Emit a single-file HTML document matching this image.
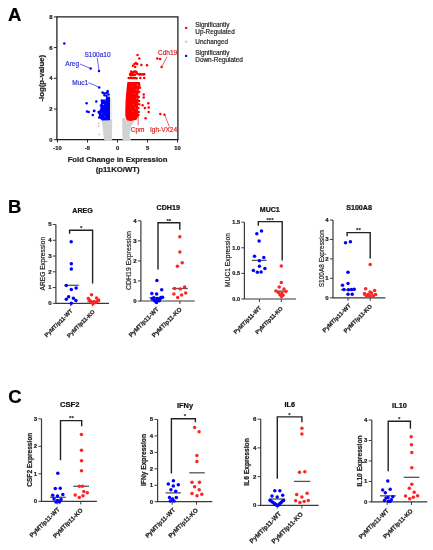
<!DOCTYPE html>
<html><head><meta charset="utf-8"><style>
html,body{margin:0;padding:0;background:#fff;}
svg{display:block;}
svg text{font-family:'Liberation Sans', sans-serif;}
</style></head><body>
<svg width="433" height="550" viewBox="0 0 433 550">
<rect width="433" height="550" fill="#fff"/>
<text x="8.00" y="21.30" font-size="18.5" font-weight="bold" text-anchor="start" fill="#000" stroke="#000" stroke-width="0.22">A</text>
<text x="8.00" y="212.60" font-size="18.5" font-weight="bold" text-anchor="start" fill="#000" stroke="#000" stroke-width="0.22">B</text>
<text x="8.20" y="403.40" font-size="18.5" font-weight="bold" text-anchor="start" fill="#000" stroke="#000" stroke-width="0.22">C</text>
<polygon points="109.60,98.00 112.20,98.00 112.20,120.00 109.60,120.00" fill="#ececec"/>
<polygon points="101.80,119.50 112.20,119.50 112.10,130.00 111.90,141.00 104.10,141.00 103.30,134.00 102.50,126.00" fill="#d2d2d2"/>
<polygon points="122.20,118.00 125.50,118.00 126.00,121.00 134.50,120.50 131.00,127.00 129.50,134.00 130.80,141.00 122.50,141.00 122.20,130.00" fill="#d2d2d2"/>
<circle cx="98.70" cy="123.50" r="0.9" fill="#cfcfcf"/>
<circle cx="98.70" cy="126.20" r="0.9" fill="#cfcfcf"/>
<circle cx="99.20" cy="134.40" r="0.9" fill="#cfcfcf"/>
<polygon points="106.30,96.50 110.00,96.80 110.00,120.30 102.00,120.60 99.20,117.80 98.60,112.50 100.30,108.50 100.90,104.50 101.00,100.20 103.20,99.50 105.60,99.60" fill="#0000ff"/>
<circle cx="103.70" cy="104.60" r="0.5" fill="#ffffff"/>
<circle cx="101.90" cy="113.20" r="0.4" fill="#ffffff"/>
<circle cx="104.60" cy="116.20" r="0.35" fill="#ffffff"/>
<circle cx="105.20" cy="100.80" r="0.35" fill="#ffffff"/>
<circle cx="107.70" cy="90.90" r="1.25" fill="#0000ff"/>
<circle cx="102.50" cy="92.50" r="1.25" fill="#0000ff"/>
<circle cx="103.80" cy="93.20" r="1.25" fill="#0000ff"/>
<circle cx="104.50" cy="95.20" r="1.25" fill="#0000ff"/>
<circle cx="106.10" cy="93.20" r="1.25" fill="#0000ff"/>
<circle cx="107.40" cy="92.50" r="1.25" fill="#0000ff"/>
<circle cx="108.50" cy="94.50" r="1.25" fill="#0000ff"/>
<circle cx="106.50" cy="96.00" r="1.25" fill="#0000ff"/>
<circle cx="101.80" cy="100.40" r="1.25" fill="#0000ff"/>
<circle cx="100.90" cy="105.60" r="1.25" fill="#0000ff"/>
<circle cx="98.60" cy="112.10" r="1.25" fill="#0000ff"/>
<circle cx="99.20" cy="117.40" r="1.25" fill="#0000ff"/>
<circle cx="96.30" cy="101.40" r="1.25" fill="#0000ff"/>
<circle cx="94.30" cy="110.80" r="1.25" fill="#0000ff"/>
<circle cx="86.60" cy="103.30" r="1.25" fill="#0000ff"/>
<circle cx="87.00" cy="111.50" r="1.25" fill="#0000ff"/>
<circle cx="88.70" cy="111.90" r="1.25" fill="#0000ff"/>
<circle cx="94.00" cy="110.90" r="1.25" fill="#0000ff"/>
<circle cx="92.80" cy="115.00" r="1.25" fill="#0000ff"/>
<circle cx="99.30" cy="113.10" r="1.25" fill="#0000ff"/>
<circle cx="64.30" cy="43.40" r="1.25" fill="#0000ff"/>
<circle cx="90.70" cy="68.50" r="1.25" fill="#0000ff"/>
<circle cx="99.00" cy="70.90" r="1.25" fill="#0000ff"/>
<circle cx="99.20" cy="87.60" r="1.25" fill="#0000ff"/>
<polygon points="127.40,81.90 139.80,81.90 140.60,85.40 139.40,88.50 138.60,92.00 138.30,96.00 138.60,100.00 138.20,104.00 137.80,108.00 138.20,112.00 138.40,116.00 136.50,119.80 131.00,120.90 126.80,120.60 125.30,116.00 125.30,110.00 125.60,100.00 126.30,92.00 126.90,86.00" fill="#ff0000"/>
<circle cx="137.30" cy="84.90" r="0.5" fill="#ffffff"/>
<circle cx="136.20" cy="89.80" r="0.45" fill="#ffffff"/>
<circle cx="134.30" cy="93.60" r="0.35" fill="#ffffff"/>
<circle cx="136.40" cy="98.20" r="0.4" fill="#ffffff"/>
<circle cx="133.60" cy="104.40" r="0.3" fill="#ffffff"/>
<circle cx="135.80" cy="108.00" r="0.4" fill="#ffffff"/>
<circle cx="132.80" cy="111.20" r="0.3" fill="#ffffff"/>
<circle cx="131.50" cy="86.20" r="0.3" fill="#ffffff"/>
<circle cx="137.50" cy="54.90" r="1.25" fill="#ff0000"/>
<circle cx="139.30" cy="58.60" r="1.25" fill="#ff0000"/>
<circle cx="135.90" cy="63.10" r="1.25" fill="#ff0000"/>
<circle cx="134.50" cy="64.00" r="1.25" fill="#ff0000"/>
<circle cx="132.90" cy="65.70" r="1.25" fill="#ff0000"/>
<circle cx="137.20" cy="64.00" r="1.25" fill="#ff0000"/>
<circle cx="135.20" cy="67.00" r="1.25" fill="#ff0000"/>
<circle cx="141.40" cy="64.90" r="1.25" fill="#ff0000"/>
<circle cx="147.00" cy="65.30" r="1.25" fill="#ff0000"/>
<circle cx="131.30" cy="71.60" r="1.25" fill="#ff0000"/>
<circle cx="132.60" cy="72.90" r="1.25" fill="#ff0000"/>
<circle cx="135.90" cy="71.90" r="1.25" fill="#ff0000"/>
<circle cx="134.20" cy="74.80" r="1.25" fill="#ff0000"/>
<circle cx="130.60" cy="73.50" r="1.25" fill="#ff0000"/>
<circle cx="139.50" cy="74.20" r="1.25" fill="#ff0000"/>
<circle cx="141.40" cy="74.50" r="1.25" fill="#ff0000"/>
<circle cx="143.70" cy="74.20" r="1.25" fill="#ff0000"/>
<circle cx="130.00" cy="74.50" r="1.25" fill="#ff0000"/>
<circle cx="131.30" cy="73.50" r="1.25" fill="#ff0000"/>
<circle cx="132.60" cy="72.50" r="1.25" fill="#ff0000"/>
<circle cx="133.90" cy="71.80" r="1.25" fill="#ff0000"/>
<circle cx="135.20" cy="71.50" r="1.25" fill="#ff0000"/>
<circle cx="136.50" cy="72.00" r="1.25" fill="#ff0000"/>
<circle cx="131.00" cy="75.30" r="1.25" fill="#ff0000"/>
<circle cx="133.00" cy="75.00" r="1.25" fill="#ff0000"/>
<circle cx="135.00" cy="74.80" r="1.25" fill="#ff0000"/>
<circle cx="137.00" cy="73.50" r="1.25" fill="#ff0000"/>
<circle cx="138.60" cy="74.30" r="1.25" fill="#ff0000"/>
<circle cx="140.00" cy="74.30" r="1.25" fill="#ff0000"/>
<circle cx="142.80" cy="74.30" r="1.25" fill="#ff0000"/>
<circle cx="144.20" cy="74.30" r="1.25" fill="#ff0000"/>
<circle cx="128.70" cy="78.00" r="1.25" fill="#ff0000"/>
<circle cx="130.00" cy="78.00" r="1.25" fill="#ff0000"/>
<circle cx="131.30" cy="78.00" r="1.25" fill="#ff0000"/>
<circle cx="132.60" cy="78.00" r="1.25" fill="#ff0000"/>
<circle cx="133.90" cy="78.00" r="1.25" fill="#ff0000"/>
<circle cx="135.20" cy="78.00" r="1.25" fill="#ff0000"/>
<circle cx="136.50" cy="78.30" r="1.25" fill="#ff0000"/>
<circle cx="140.30" cy="77.90" r="1.25" fill="#ff0000"/>
<circle cx="144.20" cy="77.90" r="1.25" fill="#ff0000"/>
<circle cx="143.70" cy="94.50" r="1.25" fill="#ff0000"/>
<circle cx="143.70" cy="97.60" r="1.25" fill="#ff0000"/>
<circle cx="148.30" cy="103.30" r="1.25" fill="#ff0000"/>
<circle cx="142.60" cy="105.20" r="1.25" fill="#ff0000"/>
<circle cx="144.90" cy="107.90" r="1.25" fill="#ff0000"/>
<circle cx="148.70" cy="107.50" r="1.25" fill="#ff0000"/>
<circle cx="148.70" cy="112.10" r="1.25" fill="#ff0000"/>
<circle cx="145.60" cy="118.20" r="1.25" fill="#ff0000"/>
<circle cx="138.40" cy="115.10" r="1.25" fill="#ff0000"/>
<circle cx="160.30" cy="114.00" r="1.25" fill="#ff0000"/>
<circle cx="164.50" cy="114.80" r="1.25" fill="#ff0000"/>
<circle cx="157.30" cy="58.40" r="1.25" fill="#ff0000"/>
<circle cx="160.10" cy="59.00" r="1.25" fill="#ff0000"/>
<circle cx="161.60" cy="67.10" r="1.25" fill="#ff0000"/>
<circle cx="140.00" cy="87.80" r="1.25" fill="#ff0000"/>
<circle cx="139.20" cy="92.00" r="1.25" fill="#ff0000"/>
<circle cx="138.80" cy="97.00" r="1.25" fill="#ff0000"/>
<circle cx="139.00" cy="101.00" r="1.25" fill="#ff0000"/>
<circle cx="139.20" cy="104.20" r="1.25" fill="#ff0000"/>
<circle cx="138.40" cy="108.00" r="1.25" fill="#ff0000"/>
<circle cx="138.70" cy="112.00" r="1.25" fill="#ff0000"/>
<line x1="56.90" y1="16.90" x2="56.90" y2="139.70" stroke="#1a1a1a" stroke-width="1.25" stroke-linecap="butt"/>
<line x1="56.30" y1="16.90" x2="178.50" y2="16.90" stroke="#1a1a1a" stroke-width="1.25" stroke-linecap="butt"/>
<line x1="177.90" y1="16.90" x2="177.90" y2="139.70" stroke="#1a1a1a" stroke-width="1.25" stroke-linecap="butt"/>
<line x1="56.30" y1="139.70" x2="178.50" y2="139.70" stroke="#1a1a1a" stroke-width="1.25" stroke-linecap="butt"/>
<polygon points="104.20,139.00 112.00,139.00 112.00,141.00 104.20,141.00" fill="#d2d2d2"/>
<polygon points="122.50,139.00 130.80,139.00 130.80,141.00 122.50,141.00" fill="#d2d2d2"/>
<line x1="53.90" y1="139.70" x2="56.90" y2="139.70" stroke="#222" stroke-width="1.0" stroke-linecap="butt"/>
<text x="52.40" y="141.70" font-size="5.8" font-weight="bold" text-anchor="end" fill="#222" stroke="#222" stroke-width="0.22">0</text>
<line x1="53.90" y1="109.00" x2="56.90" y2="109.00" stroke="#222" stroke-width="1.0" stroke-linecap="butt"/>
<text x="52.40" y="111.00" font-size="5.8" font-weight="bold" text-anchor="end" fill="#222" stroke="#222" stroke-width="0.22">2</text>
<line x1="53.90" y1="78.30" x2="56.90" y2="78.30" stroke="#222" stroke-width="1.0" stroke-linecap="butt"/>
<text x="52.40" y="80.30" font-size="5.8" font-weight="bold" text-anchor="end" fill="#222" stroke="#222" stroke-width="0.22">4</text>
<line x1="53.90" y1="47.60" x2="56.90" y2="47.60" stroke="#222" stroke-width="1.0" stroke-linecap="butt"/>
<text x="52.40" y="49.60" font-size="5.8" font-weight="bold" text-anchor="end" fill="#222" stroke="#222" stroke-width="0.22">6</text>
<line x1="53.90" y1="16.90" x2="56.90" y2="16.90" stroke="#222" stroke-width="1.0" stroke-linecap="butt"/>
<text x="52.40" y="18.90" font-size="5.8" font-weight="bold" text-anchor="end" fill="#222" stroke="#222" stroke-width="0.22">8</text>
<line x1="57.50" y1="139.70" x2="57.50" y2="142.50" stroke="#222" stroke-width="1.0" stroke-linecap="butt"/>
<text x="57.50" y="150.40" font-size="5.8" font-weight="bold" text-anchor="middle" fill="#222" stroke="#222" stroke-width="0.22">-10</text>
<line x1="87.50" y1="139.70" x2="87.50" y2="142.50" stroke="#222" stroke-width="1.0" stroke-linecap="butt"/>
<text x="87.50" y="150.40" font-size="5.8" font-weight="bold" text-anchor="middle" fill="#222" stroke="#222" stroke-width="0.22">-5</text>
<line x1="117.50" y1="139.70" x2="117.50" y2="142.50" stroke="#222" stroke-width="1.0" stroke-linecap="butt"/>
<text x="117.50" y="150.40" font-size="5.8" font-weight="bold" text-anchor="middle" fill="#222" stroke="#222" stroke-width="0.22">0</text>
<line x1="147.50" y1="139.70" x2="147.50" y2="142.50" stroke="#222" stroke-width="1.0" stroke-linecap="butt"/>
<text x="147.50" y="150.40" font-size="5.8" font-weight="bold" text-anchor="middle" fill="#222" stroke="#222" stroke-width="0.22">5</text>
<line x1="177.50" y1="139.70" x2="177.50" y2="142.50" stroke="#222" stroke-width="1.0" stroke-linecap="butt"/>
<text x="177.50" y="150.40" font-size="5.8" font-weight="bold" text-anchor="middle" fill="#222" stroke="#222" stroke-width="0.22">10</text>
<text x="44.40" y="78.20" font-size="7.8" font-weight="bold" text-anchor="middle" fill="#222" stroke="#222" stroke-width="0.22" transform="rotate(-90 44.40 78.20)">-log(p-value)</text>
<text x="117.60" y="161.80" font-size="7.75" font-weight="bold" text-anchor="middle" fill="#222" stroke="#222" stroke-width="0.22">Fold Change in Expression</text>
<text x="117.60" y="171.50" font-size="7.75" font-weight="bold" text-anchor="middle" fill="#222" stroke="#222" stroke-width="0.22">(p11KO/WT)</text>
<text x="84.50" y="57.00" font-size="6.5" text-anchor="start" fill="#2a2ad8" stroke="#2a2ad8" stroke-width="0.18">S100a10</text>
<line x1="97.20" y1="57.90" x2="99.00" y2="70.20" stroke="#2a2ad8" stroke-width="0.7" stroke-linecap="butt"/>
<text x="65.30" y="65.60" font-size="6.5" text-anchor="start" fill="#2a2ad8" stroke="#2a2ad8" stroke-width="0.18">Areg</text>
<line x1="80.00" y1="64.00" x2="90.00" y2="68.20" stroke="#2a2ad8" stroke-width="0.7" stroke-linecap="butt"/>
<text x="72.30" y="84.70" font-size="6.5" text-anchor="start" fill="#2a2ad8" stroke="#2a2ad8" stroke-width="0.18">Muc1</text>
<line x1="88.40" y1="82.70" x2="98.60" y2="86.90" stroke="#2a2ad8" stroke-width="0.7" stroke-linecap="butt"/>
<text x="158.00" y="54.60" font-size="6.5" text-anchor="start" fill="#e02020" stroke="#e02020" stroke-width="0.18">Cdh19</text>
<line x1="167.00" y1="56.60" x2="162.00" y2="66.30" stroke="#e02020" stroke-width="0.7" stroke-linecap="butt"/>
<text x="130.80" y="131.60" font-size="6.5" text-anchor="start" fill="#e02020" stroke="#e02020" stroke-width="0.18">Cpm</text>
<line x1="138.20" y1="115.00" x2="138.20" y2="125.20" stroke="#e02020" stroke-width="0.7" stroke-linecap="butt"/>
<text x="150.00" y="132.30" font-size="6.5" text-anchor="start" fill="#e02020" stroke="#e02020" stroke-width="0.18">Igh-VX24</text>
<line x1="164.80" y1="115.20" x2="169.30" y2="126.50" stroke="#e02020" stroke-width="0.7" stroke-linecap="butt"/>
<circle cx="186.10" cy="27.90" r="1.2" fill="#ff0000"/>
<circle cx="186.10" cy="41.70" r="1.2" fill="#cccccc"/>
<circle cx="186.10" cy="55.90" r="1.2" fill="#0000ff"/>
<text x="195.30" y="26.60" font-size="6.4" text-anchor="start" fill="#222" stroke="#222" stroke-width="0.18">Significantly</text>
<text x="195.30" y="34.40" font-size="6.4" text-anchor="start" fill="#222" stroke="#222" stroke-width="0.18">Up-Regulated</text>
<text x="195.30" y="44.40" font-size="6.4" text-anchor="start" fill="#222" stroke="#222" stroke-width="0.18">Unchanged</text>
<text x="195.30" y="54.60" font-size="6.4" text-anchor="start" fill="#222" stroke="#222" stroke-width="0.18">Significantly</text>
<text x="195.30" y="62.20" font-size="6.4" text-anchor="start" fill="#222" stroke="#222" stroke-width="0.18">Down-Regulated</text>
<line x1="55.90" y1="224.55" x2="55.90" y2="303.30" stroke="#3a3a3a" stroke-width="1.2" stroke-linecap="butt"/>
<line x1="52.80" y1="303.30" x2="55.90" y2="303.30" stroke="#3a3a3a" stroke-width="1.0" stroke-linecap="butt"/>
<text x="51.50" y="305.20" font-size="6.0" font-weight="bold" text-anchor="end" fill="#222" stroke="#222" stroke-width="0.22">0</text>
<line x1="52.80" y1="287.55" x2="55.90" y2="287.55" stroke="#3a3a3a" stroke-width="1.0" stroke-linecap="butt"/>
<text x="51.50" y="289.45" font-size="6.0" font-weight="bold" text-anchor="end" fill="#222" stroke="#222" stroke-width="0.22">1</text>
<line x1="52.80" y1="271.80" x2="55.90" y2="271.80" stroke="#3a3a3a" stroke-width="1.0" stroke-linecap="butt"/>
<text x="51.50" y="273.70" font-size="6.0" font-weight="bold" text-anchor="end" fill="#222" stroke="#222" stroke-width="0.22">2</text>
<line x1="52.80" y1="256.05" x2="55.90" y2="256.05" stroke="#3a3a3a" stroke-width="1.0" stroke-linecap="butt"/>
<text x="51.50" y="257.95" font-size="6.0" font-weight="bold" text-anchor="end" fill="#222" stroke="#222" stroke-width="0.22">3</text>
<line x1="52.80" y1="240.30" x2="55.90" y2="240.30" stroke="#3a3a3a" stroke-width="1.0" stroke-linecap="butt"/>
<text x="51.50" y="242.20" font-size="6.0" font-weight="bold" text-anchor="end" fill="#222" stroke="#222" stroke-width="0.22">4</text>
<line x1="52.80" y1="224.55" x2="55.90" y2="224.55" stroke="#3a3a3a" stroke-width="1.0" stroke-linecap="butt"/>
<text x="51.50" y="226.45" font-size="6.0" font-weight="bold" text-anchor="end" fill="#222" stroke="#222" stroke-width="0.22">5</text>
<line x1="55.30" y1="303.30" x2="109.00" y2="303.30" stroke="#3a3a3a" stroke-width="1.2" stroke-linecap="butt"/>
<line x1="70.80" y1="303.30" x2="70.80" y2="306.30" stroke="#3a3a3a" stroke-width="1.0" stroke-linecap="butt"/>
<line x1="92.60" y1="303.30" x2="92.60" y2="306.30" stroke="#3a3a3a" stroke-width="1.0" stroke-linecap="butt"/>
<text x="73.00" y="311.30" font-size="5.7" font-weight="bold" text-anchor="end" fill="#222" stroke="#222" stroke-width="0.22" transform="rotate(-45 73.00 311.30)">PyMT/p11-WT</text>
<text x="95.20" y="312.10" font-size="5.7" font-weight="bold" text-anchor="end" fill="#222" stroke="#222" stroke-width="0.22" transform="rotate(-45 95.20 312.10)">PyMT/p11-KO</text>
<text x="82.55" y="213.10" font-size="7.1" font-weight="bold" text-anchor="middle" fill="#111" stroke="#111" stroke-width="0.22">AREG</text>
<text x="44.60" y="263.70" font-size="6.66" text-anchor="middle" fill="#222" stroke="#222" stroke-width="0.18" transform="rotate(-90 44.60 263.70)">AREG Expression</text>
<polyline points="69.60,233.80 69.60,230.20 92.60,230.20 92.60,283.60" fill="none" stroke="#222" stroke-width="1.4"/>
<text x="81.20" y="230.40" font-size="6.2" font-weight="bold" text-anchor="middle" fill="#222" stroke="#222" stroke-width="0.1">*</text>
<line x1="64.40" y1="285.30" x2="78.80" y2="285.30" stroke="#555" stroke-width="1.3" stroke-linecap="butt"/>
<line x1="87.40" y1="301.20" x2="100.10" y2="301.20" stroke="#555" stroke-width="1.3" stroke-linecap="butt"/>
<circle cx="71.20" cy="241.80" r="1.75" fill="#0000ff"/>
<circle cx="71.30" cy="263.70" r="1.75" fill="#0000ff"/>
<circle cx="71.30" cy="268.90" r="1.75" fill="#0000ff"/>
<circle cx="66.30" cy="285.60" r="1.75" fill="#0000ff"/>
<circle cx="71.30" cy="289.40" r="1.75" fill="#0000ff"/>
<circle cx="76.10" cy="288.10" r="1.75" fill="#0000ff"/>
<circle cx="68.60" cy="296.80" r="1.75" fill="#0000ff"/>
<circle cx="66.30" cy="299.20" r="1.75" fill="#0000ff"/>
<circle cx="73.40" cy="298.30" r="1.75" fill="#0000ff"/>
<circle cx="75.90" cy="300.60" r="1.75" fill="#0000ff"/>
<circle cx="71.30" cy="303.30" r="1.75" fill="#0000ff"/>
<circle cx="91.50" cy="294.80" r="1.75" fill="#ff2424"/>
<circle cx="96.50" cy="298.00" r="1.75" fill="#ff2424"/>
<circle cx="88.30" cy="298.60" r="1.75" fill="#ff2424"/>
<circle cx="98.60" cy="300.00" r="1.75" fill="#ff2424"/>
<circle cx="89.80" cy="300.60" r="1.75" fill="#ff2424"/>
<circle cx="93.80" cy="301.80" r="1.75" fill="#ff2424"/>
<circle cx="91.50" cy="302.50" r="1.75" fill="#ff2424"/>
<circle cx="95.80" cy="302.50" r="1.75" fill="#ff2424"/>
<circle cx="93.00" cy="303.80" r="1.75" fill="#ff2424"/>
<circle cx="97.30" cy="301.30" r="1.75" fill="#ff2424"/>
<circle cx="90.50" cy="302.00" r="1.75" fill="#ff2424"/>
<line x1="140.90" y1="220.80" x2="140.90" y2="301.00" stroke="#3a3a3a" stroke-width="1.2" stroke-linecap="butt"/>
<line x1="137.80" y1="301.00" x2="140.90" y2="301.00" stroke="#3a3a3a" stroke-width="1.0" stroke-linecap="butt"/>
<text x="136.50" y="302.90" font-size="6.0" font-weight="bold" text-anchor="end" fill="#222" stroke="#222" stroke-width="0.22">0</text>
<line x1="137.80" y1="280.95" x2="140.90" y2="280.95" stroke="#3a3a3a" stroke-width="1.0" stroke-linecap="butt"/>
<text x="136.50" y="282.85" font-size="6.0" font-weight="bold" text-anchor="end" fill="#222" stroke="#222" stroke-width="0.22">1</text>
<line x1="137.80" y1="260.90" x2="140.90" y2="260.90" stroke="#3a3a3a" stroke-width="1.0" stroke-linecap="butt"/>
<text x="136.50" y="262.80" font-size="6.0" font-weight="bold" text-anchor="end" fill="#222" stroke="#222" stroke-width="0.22">2</text>
<line x1="137.80" y1="240.85" x2="140.90" y2="240.85" stroke="#3a3a3a" stroke-width="1.0" stroke-linecap="butt"/>
<text x="136.50" y="242.75" font-size="6.0" font-weight="bold" text-anchor="end" fill="#222" stroke="#222" stroke-width="0.22">3</text>
<line x1="137.80" y1="220.80" x2="140.90" y2="220.80" stroke="#3a3a3a" stroke-width="1.0" stroke-linecap="butt"/>
<text x="136.50" y="222.70" font-size="6.0" font-weight="bold" text-anchor="end" fill="#222" stroke="#222" stroke-width="0.22">4</text>
<line x1="140.30" y1="301.00" x2="194.70" y2="301.00" stroke="#3a3a3a" stroke-width="1.2" stroke-linecap="butt"/>
<line x1="156.30" y1="301.00" x2="156.30" y2="304.00" stroke="#3a3a3a" stroke-width="1.0" stroke-linecap="butt"/>
<line x1="179.90" y1="301.00" x2="179.90" y2="304.00" stroke="#3a3a3a" stroke-width="1.0" stroke-linecap="butt"/>
<text x="159.20" y="309.50" font-size="6.1" font-weight="bold" text-anchor="end" fill="#222" stroke="#222" stroke-width="0.22" transform="rotate(-45 159.20 309.50)">PyMT/p11-WT</text>
<text x="182.10" y="309.90" font-size="6.1" font-weight="bold" text-anchor="end" fill="#222" stroke="#222" stroke-width="0.22" transform="rotate(-45 182.10 309.90)">PyMT/p11-KO</text>
<text x="168.20" y="209.80" font-size="7.1" font-weight="bold" text-anchor="middle" fill="#111" stroke="#111" stroke-width="0.22">CDH19</text>
<text x="130.80" y="260.50" font-size="6.92" text-anchor="middle" fill="#222" stroke="#222" stroke-width="0.18" transform="rotate(-90 130.80 260.50)">CDH19 Expression</text>
<polyline points="158.00,269.40 158.00,222.80 179.80,222.80 179.80,229.70" fill="none" stroke="#222" stroke-width="1.4"/>
<text x="168.80" y="223.20" font-size="6.2" font-weight="bold" text-anchor="middle" fill="#222" stroke="#222" stroke-width="0.1">**</text>
<line x1="149.40" y1="297.80" x2="164.20" y2="297.80" stroke="#555" stroke-width="1.3" stroke-linecap="butt"/>
<line x1="172.10" y1="288.50" x2="187.80" y2="288.50" stroke="#555" stroke-width="1.3" stroke-linecap="butt"/>
<circle cx="156.90" cy="280.50" r="1.75" fill="#0000ff"/>
<circle cx="161.70" cy="289.80" r="1.75" fill="#0000ff"/>
<circle cx="151.80" cy="293.40" r="1.75" fill="#0000ff"/>
<circle cx="156.60" cy="294.00" r="1.75" fill="#0000ff"/>
<circle cx="153.90" cy="297.80" r="1.75" fill="#0000ff"/>
<circle cx="157.30" cy="298.50" r="1.75" fill="#0000ff"/>
<circle cx="160.80" cy="297.50" r="1.75" fill="#0000ff"/>
<circle cx="156.30" cy="300.60" r="1.75" fill="#0000ff"/>
<circle cx="152.30" cy="299.00" r="1.75" fill="#0000ff"/>
<circle cx="159.30" cy="300.80" r="1.75" fill="#0000ff"/>
<circle cx="155.00" cy="301.00" r="1.75" fill="#0000ff"/>
<circle cx="152.50" cy="298.50" r="1.75" fill="#0000ff"/>
<circle cx="154.50" cy="300.50" r="1.75" fill="#0000ff"/>
<circle cx="156.50" cy="302.50" r="1.75" fill="#0000ff"/>
<circle cx="158.50" cy="300.50" r="1.75" fill="#0000ff"/>
<circle cx="160.50" cy="298.50" r="1.75" fill="#0000ff"/>
<circle cx="162.50" cy="297.20" r="1.75" fill="#0000ff"/>
<circle cx="179.80" cy="236.70" r="1.75" fill="#ff2424"/>
<circle cx="179.90" cy="252.10" r="1.75" fill="#ff2424"/>
<circle cx="182.20" cy="262.70" r="1.75" fill="#ff2424"/>
<circle cx="177.40" cy="266.30" r="1.75" fill="#ff2424"/>
<circle cx="174.60" cy="288.50" r="1.75" fill="#ff2424"/>
<circle cx="180.20" cy="289.00" r="1.75" fill="#ff2424"/>
<circle cx="184.60" cy="287.10" r="1.75" fill="#ff2424"/>
<circle cx="173.90" cy="294.00" r="1.75" fill="#ff2424"/>
<circle cx="181.60" cy="295.00" r="1.75" fill="#ff2424"/>
<circle cx="185.70" cy="293.00" r="1.75" fill="#ff2424"/>
<circle cx="177.70" cy="297.50" r="1.75" fill="#ff2424"/>
<line x1="244.40" y1="222.20" x2="244.40" y2="299.00" stroke="#3a3a3a" stroke-width="1.2" stroke-linecap="butt"/>
<line x1="241.30" y1="299.00" x2="244.40" y2="299.00" stroke="#3a3a3a" stroke-width="1.0" stroke-linecap="butt"/>
<text x="240.00" y="300.90" font-size="5.5" font-weight="bold" text-anchor="end" fill="#222" stroke="#222" stroke-width="0.22">0.0</text>
<line x1="241.30" y1="273.40" x2="244.40" y2="273.40" stroke="#3a3a3a" stroke-width="1.0" stroke-linecap="butt"/>
<text x="240.00" y="275.30" font-size="5.5" font-weight="bold" text-anchor="end" fill="#222" stroke="#222" stroke-width="0.22">0.5</text>
<line x1="241.30" y1="247.80" x2="244.40" y2="247.80" stroke="#3a3a3a" stroke-width="1.0" stroke-linecap="butt"/>
<text x="240.00" y="249.70" font-size="5.5" font-weight="bold" text-anchor="end" fill="#222" stroke="#222" stroke-width="0.22">1.0</text>
<line x1="241.30" y1="222.20" x2="244.40" y2="222.20" stroke="#3a3a3a" stroke-width="1.0" stroke-linecap="butt"/>
<text x="240.00" y="224.10" font-size="5.5" font-weight="bold" text-anchor="end" fill="#222" stroke="#222" stroke-width="0.22">1.5</text>
<line x1="243.80" y1="299.00" x2="296.10" y2="299.00" stroke="#3a3a3a" stroke-width="1.2" stroke-linecap="butt"/>
<line x1="259.40" y1="299.00" x2="259.40" y2="302.00" stroke="#3a3a3a" stroke-width="1.0" stroke-linecap="butt"/>
<line x1="281.30" y1="299.00" x2="281.30" y2="302.00" stroke="#3a3a3a" stroke-width="1.0" stroke-linecap="butt"/>
<text x="261.70" y="308.40" font-size="5.65" font-weight="bold" text-anchor="end" fill="#222" stroke="#222" stroke-width="0.22" transform="rotate(-45 261.70 308.40)">PyMT/p11-WT</text>
<text x="283.20" y="308.80" font-size="5.65" font-weight="bold" text-anchor="end" fill="#222" stroke="#222" stroke-width="0.22" transform="rotate(-45 283.20 308.80)">PyMT/p11-KO</text>
<text x="269.75" y="211.50" font-size="7.0" font-weight="bold" text-anchor="middle" fill="#111" stroke="#111" stroke-width="0.22">MUC1</text>
<text x="230.00" y="260.00" font-size="6.7" text-anchor="middle" fill="#222" stroke="#222" stroke-width="0.18" transform="rotate(-90 230.00 260.00)">MUC1 Expression</text>
<polyline points="258.30,225.70 258.30,221.60 282.20,221.60 282.20,260.40" fill="none" stroke="#222" stroke-width="1.4"/>
<text x="270.00" y="222.20" font-size="6.2" font-weight="bold" text-anchor="middle" fill="#222" stroke="#222" stroke-width="0.1">***</text>
<line x1="251.80" y1="260.40" x2="266.60" y2="260.40" stroke="#555" stroke-width="1.3" stroke-linecap="butt"/>
<line x1="274.60" y1="291.10" x2="287.80" y2="291.10" stroke="#555" stroke-width="1.3" stroke-linecap="butt"/>
<circle cx="261.50" cy="230.90" r="1.75" fill="#0000ff"/>
<circle cx="256.80" cy="233.80" r="1.75" fill="#0000ff"/>
<circle cx="259.10" cy="241.00" r="1.75" fill="#0000ff"/>
<circle cx="254.50" cy="256.20" r="1.75" fill="#0000ff"/>
<circle cx="263.80" cy="257.60" r="1.75" fill="#0000ff"/>
<circle cx="259.40" cy="260.80" r="1.75" fill="#0000ff"/>
<circle cx="259.40" cy="266.30" r="1.75" fill="#0000ff"/>
<circle cx="264.90" cy="268.40" r="1.75" fill="#0000ff"/>
<circle cx="253.40" cy="270.50" r="1.75" fill="#0000ff"/>
<circle cx="257.30" cy="272.20" r="1.75" fill="#0000ff"/>
<circle cx="261.10" cy="271.90" r="1.75" fill="#0000ff"/>
<circle cx="281.30" cy="265.90" r="1.75" fill="#ff2424"/>
<circle cx="281.30" cy="282.50" r="1.75" fill="#ff2424"/>
<circle cx="279.20" cy="287.10" r="1.75" fill="#ff2424"/>
<circle cx="284.00" cy="289.10" r="1.75" fill="#ff2424"/>
<circle cx="276.00" cy="290.90" r="1.75" fill="#ff2424"/>
<circle cx="278.50" cy="292.50" r="1.75" fill="#ff2424"/>
<circle cx="282.00" cy="293.00" r="1.75" fill="#ff2424"/>
<circle cx="285.80" cy="291.50" r="1.75" fill="#ff2424"/>
<circle cx="280.00" cy="294.80" r="1.75" fill="#ff2424"/>
<circle cx="283.00" cy="295.20" r="1.75" fill="#ff2424"/>
<circle cx="281.50" cy="296.50" r="1.75" fill="#ff2424"/>
<line x1="333.00" y1="220.00" x2="333.00" y2="297.80" stroke="#3a3a3a" stroke-width="1.2" stroke-linecap="butt"/>
<line x1="329.90" y1="297.80" x2="333.00" y2="297.80" stroke="#3a3a3a" stroke-width="1.0" stroke-linecap="butt"/>
<text x="328.60" y="299.70" font-size="6.0" font-weight="bold" text-anchor="end" fill="#222" stroke="#222" stroke-width="0.22">0</text>
<line x1="329.90" y1="278.35" x2="333.00" y2="278.35" stroke="#3a3a3a" stroke-width="1.0" stroke-linecap="butt"/>
<text x="328.60" y="280.25" font-size="6.0" font-weight="bold" text-anchor="end" fill="#222" stroke="#222" stroke-width="0.22">1</text>
<line x1="329.90" y1="258.90" x2="333.00" y2="258.90" stroke="#3a3a3a" stroke-width="1.0" stroke-linecap="butt"/>
<text x="328.60" y="260.80" font-size="6.0" font-weight="bold" text-anchor="end" fill="#222" stroke="#222" stroke-width="0.22">2</text>
<line x1="329.90" y1="239.45" x2="333.00" y2="239.45" stroke="#3a3a3a" stroke-width="1.0" stroke-linecap="butt"/>
<text x="328.60" y="241.35" font-size="6.0" font-weight="bold" text-anchor="end" fill="#222" stroke="#222" stroke-width="0.22">3</text>
<line x1="329.90" y1="220.00" x2="333.00" y2="220.00" stroke="#3a3a3a" stroke-width="1.0" stroke-linecap="butt"/>
<text x="328.60" y="221.90" font-size="6.0" font-weight="bold" text-anchor="end" fill="#222" stroke="#222" stroke-width="0.22">4</text>
<line x1="332.40" y1="297.80" x2="385.40" y2="297.80" stroke="#3a3a3a" stroke-width="1.2" stroke-linecap="butt"/>
<line x1="348.00" y1="297.80" x2="348.00" y2="300.80" stroke="#3a3a3a" stroke-width="1.0" stroke-linecap="butt"/>
<line x1="370.20" y1="297.80" x2="370.20" y2="300.80" stroke="#3a3a3a" stroke-width="1.0" stroke-linecap="butt"/>
<text x="351.30" y="306.10" font-size="5.8" font-weight="bold" text-anchor="end" fill="#222" stroke="#222" stroke-width="0.22" transform="rotate(-45 351.30 306.10)">PyMT/p11-WT</text>
<text x="372.50" y="306.80" font-size="5.8" font-weight="bold" text-anchor="end" fill="#222" stroke="#222" stroke-width="0.22" transform="rotate(-45 372.50 306.80)">PyMT/p11-KO</text>
<text x="359.05" y="209.60" font-size="7.1" font-weight="bold" text-anchor="middle" fill="#111" stroke="#111" stroke-width="0.22">S100A8</text>
<text x="324.00" y="258.70" font-size="6.5" text-anchor="middle" fill="#222" stroke="#222" stroke-width="0.18" transform="rotate(-90 324.00 258.70)">S100A8 Expression</text>
<polyline points="347.10,236.20 347.10,232.60 370.20,232.60 370.20,258.60" fill="none" stroke="#222" stroke-width="1.4"/>
<text x="358.50" y="232.20" font-size="6.2" font-weight="bold" text-anchor="middle" fill="#222" stroke="#222" stroke-width="0.1">**</text>
<line x1="341.00" y1="289.80" x2="355.00" y2="289.80" stroke="#555" stroke-width="1.3" stroke-linecap="butt"/>
<line x1="363.20" y1="295.00" x2="377.10" y2="295.00" stroke="#555" stroke-width="1.3" stroke-linecap="butt"/>
<circle cx="345.50" cy="242.70" r="1.75" fill="#0000ff"/>
<circle cx="350.40" cy="241.80" r="1.75" fill="#0000ff"/>
<circle cx="348.00" cy="272.20" r="1.75" fill="#0000ff"/>
<circle cx="342.50" cy="285.30" r="1.75" fill="#0000ff"/>
<circle cx="348.00" cy="283.50" r="1.75" fill="#0000ff"/>
<circle cx="343.90" cy="289.50" r="1.75" fill="#0000ff"/>
<circle cx="348.50" cy="289.80" r="1.75" fill="#0000ff"/>
<circle cx="354.20" cy="289.20" r="1.75" fill="#0000ff"/>
<circle cx="348.00" cy="294.30" r="1.75" fill="#0000ff"/>
<circle cx="352.20" cy="294.30" r="1.75" fill="#0000ff"/>
<circle cx="351.50" cy="289.50" r="1.75" fill="#0000ff"/>
<circle cx="370.20" cy="264.50" r="1.75" fill="#ff2424"/>
<circle cx="365.70" cy="288.80" r="1.75" fill="#ff2424"/>
<circle cx="374.60" cy="290.40" r="1.75" fill="#ff2424"/>
<circle cx="364.50" cy="293.50" r="1.75" fill="#ff2424"/>
<circle cx="368.00" cy="294.50" r="1.75" fill="#ff2424"/>
<circle cx="371.50" cy="293.00" r="1.75" fill="#ff2424"/>
<circle cx="375.50" cy="294.50" r="1.75" fill="#ff2424"/>
<circle cx="369.50" cy="296.50" r="1.75" fill="#ff2424"/>
<circle cx="366.50" cy="296.00" r="1.75" fill="#ff2424"/>
<circle cx="373.00" cy="296.30" r="1.75" fill="#ff2424"/>
<circle cx="370.00" cy="292.00" r="1.75" fill="#ff2424"/>
<line x1="41.50" y1="418.80" x2="41.50" y2="501.30" stroke="#3a3a3a" stroke-width="1.2" stroke-linecap="butt"/>
<line x1="38.40" y1="501.30" x2="41.50" y2="501.30" stroke="#3a3a3a" stroke-width="1.0" stroke-linecap="butt"/>
<text x="37.10" y="503.20" font-size="6.0" font-weight="bold" text-anchor="end" fill="#222" stroke="#222" stroke-width="0.22">0</text>
<line x1="38.40" y1="473.80" x2="41.50" y2="473.80" stroke="#3a3a3a" stroke-width="1.0" stroke-linecap="butt"/>
<text x="37.10" y="475.70" font-size="6.0" font-weight="bold" text-anchor="end" fill="#222" stroke="#222" stroke-width="0.22">1</text>
<line x1="38.40" y1="446.30" x2="41.50" y2="446.30" stroke="#3a3a3a" stroke-width="1.0" stroke-linecap="butt"/>
<text x="37.10" y="448.20" font-size="6.0" font-weight="bold" text-anchor="end" fill="#222" stroke="#222" stroke-width="0.22">2</text>
<line x1="38.40" y1="418.80" x2="41.50" y2="418.80" stroke="#3a3a3a" stroke-width="1.0" stroke-linecap="butt"/>
<text x="37.10" y="420.70" font-size="6.0" font-weight="bold" text-anchor="end" fill="#222" stroke="#222" stroke-width="0.22">3</text>
<line x1="40.90" y1="501.30" x2="96.90" y2="501.30" stroke="#3a3a3a" stroke-width="1.2" stroke-linecap="butt"/>
<line x1="57.20" y1="501.30" x2="57.20" y2="504.30" stroke="#3a3a3a" stroke-width="1.0" stroke-linecap="butt"/>
<line x1="80.80" y1="501.30" x2="80.80" y2="504.30" stroke="#3a3a3a" stroke-width="1.0" stroke-linecap="butt"/>
<text x="60.10" y="509.80" font-size="6.1" font-weight="bold" text-anchor="end" fill="#222" stroke="#222" stroke-width="0.22" transform="rotate(-45 60.10 509.80)">PyMT/p11-WT</text>
<text x="83.20" y="510.70" font-size="6.1" font-weight="bold" text-anchor="end" fill="#222" stroke="#222" stroke-width="0.22" transform="rotate(-45 83.20 510.70)">PyMT/p11-KO</text>
<text x="69.75" y="407.40" font-size="7.6" font-weight="bold" text-anchor="middle" fill="#111" stroke="#111" stroke-width="0.22">CSF2</text>
<text x="31.60" y="459.70" font-size="6.58" font-weight="bold" text-anchor="middle" fill="#222" stroke="#222" stroke-width="0.22" transform="rotate(-90 31.60 459.70)">CSF2 Expression</text>
<polyline points="60.50,460.30 60.50,420.60 81.70,420.60 81.70,426.30" fill="none" stroke="#222" stroke-width="1.4"/>
<text x="71.50" y="420.10" font-size="6.2" font-weight="bold" text-anchor="middle" fill="#222" stroke="#222" stroke-width="0.1">**</text>
<line x1="50.00" y1="497.30" x2="65.80" y2="497.30" stroke="#555" stroke-width="1.3" stroke-linecap="butt"/>
<line x1="73.30" y1="486.30" x2="89.00" y2="486.30" stroke="#555" stroke-width="1.3" stroke-linecap="butt"/>
<circle cx="57.80" cy="473.20" r="1.75" fill="#0000ff"/>
<circle cx="55.30" cy="488.50" r="1.75" fill="#0000ff"/>
<circle cx="60.20" cy="488.20" r="1.75" fill="#0000ff"/>
<circle cx="52.70" cy="495.30" r="1.75" fill="#0000ff"/>
<circle cx="62.80" cy="494.50" r="1.75" fill="#0000ff"/>
<circle cx="57.50" cy="496.00" r="1.75" fill="#0000ff"/>
<circle cx="54.00" cy="499.00" r="1.75" fill="#0000ff"/>
<circle cx="57.50" cy="500.50" r="1.75" fill="#0000ff"/>
<circle cx="61.00" cy="499.50" r="1.75" fill="#0000ff"/>
<circle cx="56.00" cy="502.00" r="1.75" fill="#0000ff"/>
<circle cx="59.50" cy="502.00" r="1.75" fill="#0000ff"/>
<circle cx="81.40" cy="434.40" r="1.75" fill="#ff2424"/>
<circle cx="81.50" cy="450.30" r="1.75" fill="#ff2424"/>
<circle cx="81.50" cy="460.80" r="1.75" fill="#ff2424"/>
<circle cx="81.50" cy="470.80" r="1.75" fill="#ff2424"/>
<circle cx="79.30" cy="486.30" r="1.75" fill="#ff2424"/>
<circle cx="83.80" cy="491.50" r="1.75" fill="#ff2424"/>
<circle cx="87.30" cy="492.70" r="1.75" fill="#ff2424"/>
<circle cx="75.20" cy="495.00" r="1.75" fill="#ff2424"/>
<circle cx="79.30" cy="497.60" r="1.75" fill="#ff2424"/>
<circle cx="83.00" cy="495.80" r="1.75" fill="#ff2424"/>
<circle cx="82.50" cy="486.30" r="1.75" fill="#ff2424"/>
<line x1="157.60" y1="419.45" x2="157.60" y2="501.70" stroke="#3a3a3a" stroke-width="1.2" stroke-linecap="butt"/>
<line x1="154.50" y1="501.70" x2="157.60" y2="501.70" stroke="#3a3a3a" stroke-width="1.0" stroke-linecap="butt"/>
<text x="153.20" y="503.60" font-size="6.0" font-weight="bold" text-anchor="end" fill="#222" stroke="#222" stroke-width="0.22">0</text>
<line x1="154.50" y1="485.25" x2="157.60" y2="485.25" stroke="#3a3a3a" stroke-width="1.0" stroke-linecap="butt"/>
<text x="153.20" y="487.15" font-size="6.0" font-weight="bold" text-anchor="end" fill="#222" stroke="#222" stroke-width="0.22">1</text>
<line x1="154.50" y1="468.80" x2="157.60" y2="468.80" stroke="#3a3a3a" stroke-width="1.0" stroke-linecap="butt"/>
<text x="153.20" y="470.70" font-size="6.0" font-weight="bold" text-anchor="end" fill="#222" stroke="#222" stroke-width="0.22">2</text>
<line x1="154.50" y1="452.35" x2="157.60" y2="452.35" stroke="#3a3a3a" stroke-width="1.0" stroke-linecap="butt"/>
<text x="153.20" y="454.25" font-size="6.0" font-weight="bold" text-anchor="end" fill="#222" stroke="#222" stroke-width="0.22">3</text>
<line x1="154.50" y1="435.90" x2="157.60" y2="435.90" stroke="#3a3a3a" stroke-width="1.0" stroke-linecap="butt"/>
<text x="153.20" y="437.80" font-size="6.0" font-weight="bold" text-anchor="end" fill="#222" stroke="#222" stroke-width="0.22">4</text>
<line x1="154.50" y1="419.45" x2="157.60" y2="419.45" stroke="#3a3a3a" stroke-width="1.0" stroke-linecap="butt"/>
<text x="153.20" y="421.35" font-size="6.0" font-weight="bold" text-anchor="end" fill="#222" stroke="#222" stroke-width="0.22">5</text>
<line x1="157.00" y1="501.70" x2="212.30" y2="501.70" stroke="#3a3a3a" stroke-width="1.2" stroke-linecap="butt"/>
<line x1="172.20" y1="501.70" x2="172.20" y2="504.70" stroke="#3a3a3a" stroke-width="1.0" stroke-linecap="butt"/>
<line x1="196.50" y1="501.70" x2="196.50" y2="504.70" stroke="#3a3a3a" stroke-width="1.0" stroke-linecap="butt"/>
<text x="175.60" y="510.40" font-size="6.07" font-weight="bold" text-anchor="end" fill="#222" stroke="#222" stroke-width="0.22" transform="rotate(-45 175.60 510.40)">PyMT/p11-WT</text>
<text x="198.40" y="510.70" font-size="6.07" font-weight="bold" text-anchor="end" fill="#222" stroke="#222" stroke-width="0.22" transform="rotate(-45 198.40 510.70)">PyMT/p11-KO</text>
<text x="185.05" y="407.60" font-size="7.4" font-weight="bold" text-anchor="middle" fill="#111" stroke="#111" stroke-width="0.22">IFNy</text>
<text x="146.00" y="460.00" font-size="6.63" font-weight="bold" text-anchor="middle" fill="#222" stroke="#222" stroke-width="0.22" transform="rotate(-90 146.00 460.00)">IFNy Expression</text>
<polyline points="171.40,473.50 171.40,418.70 195.40,418.70 195.40,422.30" fill="none" stroke="#222" stroke-width="1.4"/>
<text x="185.00" y="418.40" font-size="6.2" font-weight="bold" text-anchor="middle" fill="#222" stroke="#222" stroke-width="0.1">*</text>
<line x1="165.60" y1="492.90" x2="181.00" y2="492.90" stroke="#555" stroke-width="1.3" stroke-linecap="butt"/>
<line x1="189.30" y1="472.80" x2="204.80" y2="472.80" stroke="#555" stroke-width="1.3" stroke-linecap="butt"/>
<circle cx="173.40" cy="480.70" r="1.75" fill="#0000ff"/>
<circle cx="168.30" cy="483.90" r="1.75" fill="#0000ff"/>
<circle cx="178.30" cy="484.70" r="1.75" fill="#0000ff"/>
<circle cx="173.30" cy="486.10" r="1.75" fill="#0000ff"/>
<circle cx="170.90" cy="489.80" r="1.75" fill="#0000ff"/>
<circle cx="175.70" cy="491.20" r="1.75" fill="#0000ff"/>
<circle cx="169.50" cy="497.60" r="1.75" fill="#0000ff"/>
<circle cx="176.30" cy="497.60" r="1.75" fill="#0000ff"/>
<circle cx="172.50" cy="499.00" r="1.75" fill="#0000ff"/>
<circle cx="170.30" cy="500.90" r="1.75" fill="#0000ff"/>
<circle cx="174.00" cy="500.90" r="1.75" fill="#0000ff"/>
<circle cx="194.60" cy="427.60" r="1.75" fill="#ff2424"/>
<circle cx="199.10" cy="431.70" r="1.75" fill="#ff2424"/>
<circle cx="196.90" cy="455.50" r="1.75" fill="#ff2424"/>
<circle cx="196.90" cy="461.40" r="1.75" fill="#ff2424"/>
<circle cx="192.00" cy="482.20" r="1.75" fill="#ff2424"/>
<circle cx="199.50" cy="482.20" r="1.75" fill="#ff2424"/>
<circle cx="194.60" cy="486.70" r="1.75" fill="#ff2424"/>
<circle cx="199.20" cy="489.70" r="1.75" fill="#ff2424"/>
<circle cx="192.00" cy="493.50" r="1.75" fill="#ff2424"/>
<circle cx="197.00" cy="495.80" r="1.75" fill="#ff2424"/>
<circle cx="201.80" cy="494.20" r="1.75" fill="#ff2424"/>
<line x1="260.70" y1="419.12" x2="260.70" y2="505.40" stroke="#3a3a3a" stroke-width="1.2" stroke-linecap="butt"/>
<line x1="257.60" y1="505.40" x2="260.70" y2="505.40" stroke="#3a3a3a" stroke-width="1.0" stroke-linecap="butt"/>
<text x="256.30" y="507.30" font-size="6.0" font-weight="bold" text-anchor="end" fill="#222" stroke="#222" stroke-width="0.22">0</text>
<line x1="257.60" y1="476.64" x2="260.70" y2="476.64" stroke="#3a3a3a" stroke-width="1.0" stroke-linecap="butt"/>
<text x="256.30" y="478.54" font-size="6.0" font-weight="bold" text-anchor="end" fill="#222" stroke="#222" stroke-width="0.22">2</text>
<line x1="257.60" y1="447.88" x2="260.70" y2="447.88" stroke="#3a3a3a" stroke-width="1.0" stroke-linecap="butt"/>
<text x="256.30" y="449.78" font-size="6.0" font-weight="bold" text-anchor="end" fill="#222" stroke="#222" stroke-width="0.22">4</text>
<line x1="257.60" y1="419.12" x2="260.70" y2="419.12" stroke="#3a3a3a" stroke-width="1.0" stroke-linecap="butt"/>
<text x="256.30" y="421.02" font-size="6.0" font-weight="bold" text-anchor="end" fill="#222" stroke="#222" stroke-width="0.22">6</text>
<line x1="260.10" y1="505.40" x2="318.70" y2="505.40" stroke="#3a3a3a" stroke-width="1.2" stroke-linecap="butt"/>
<line x1="277.30" y1="505.40" x2="277.30" y2="508.40" stroke="#3a3a3a" stroke-width="1.0" stroke-linecap="butt"/>
<line x1="301.90" y1="505.40" x2="301.90" y2="508.40" stroke="#3a3a3a" stroke-width="1.0" stroke-linecap="butt"/>
<text x="281.60" y="514.30" font-size="6.43" font-weight="bold" text-anchor="end" fill="#222" stroke="#222" stroke-width="0.22" transform="rotate(-45 281.60 514.30)">PyMT/p11-WT</text>
<text x="303.40" y="514.80" font-size="6.43" font-weight="bold" text-anchor="end" fill="#222" stroke="#222" stroke-width="0.22" transform="rotate(-45 303.40 514.80)">PyMT/p11-KO</text>
<text x="289.85" y="407.20" font-size="7.3" font-weight="bold" text-anchor="middle" fill="#111" stroke="#111" stroke-width="0.22">IL6</text>
<text x="249.40" y="462.00" font-size="6.7" font-weight="bold" text-anchor="middle" fill="#222" stroke="#222" stroke-width="0.22" transform="rotate(-90 249.40 462.00)">IL6 Expression</text>
<polyline points="277.30,478.80 277.30,416.90 301.90,416.90 301.90,422.30" fill="none" stroke="#222" stroke-width="1.4"/>
<text x="289.40" y="416.60" font-size="6.2" font-weight="bold" text-anchor="middle" fill="#222" stroke="#222" stroke-width="0.1">*</text>
<line x1="269.30" y1="499.00" x2="285.20" y2="499.00" stroke="#555" stroke-width="1.3" stroke-linecap="butt"/>
<line x1="293.90" y1="481.40" x2="310.30" y2="481.40" stroke="#555" stroke-width="1.3" stroke-linecap="butt"/>
<circle cx="274.80" cy="490.70" r="1.75" fill="#0000ff"/>
<circle cx="279.90" cy="490.70" r="1.75" fill="#0000ff"/>
<circle cx="272.00" cy="495.90" r="1.75" fill="#0000ff"/>
<circle cx="277.20" cy="496.90" r="1.75" fill="#0000ff"/>
<circle cx="282.70" cy="495.20" r="1.75" fill="#0000ff"/>
<circle cx="271.00" cy="501.00" r="1.75" fill="#0000ff"/>
<circle cx="273.80" cy="502.90" r="1.75" fill="#0000ff"/>
<circle cx="275.50" cy="504.30" r="1.75" fill="#0000ff"/>
<circle cx="277.60" cy="505.40" r="1.75" fill="#0000ff"/>
<circle cx="280.00" cy="503.60" r="1.75" fill="#0000ff"/>
<circle cx="282.40" cy="501.00" r="1.75" fill="#0000ff"/>
<circle cx="272.40" cy="502.00" r="1.75" fill="#0000ff"/>
<circle cx="274.60" cy="503.80" r="1.75" fill="#0000ff"/>
<circle cx="276.60" cy="505.20" r="1.75" fill="#0000ff"/>
<circle cx="278.80" cy="504.80" r="1.75" fill="#0000ff"/>
<circle cx="281.20" cy="502.60" r="1.75" fill="#0000ff"/>
<circle cx="283.60" cy="500.40" r="1.75" fill="#0000ff"/>
<circle cx="270.00" cy="500.30" r="1.75" fill="#0000ff"/>
<circle cx="301.90" cy="428.30" r="1.75" fill="#ff2424"/>
<circle cx="301.90" cy="434.00" r="1.75" fill="#ff2424"/>
<circle cx="299.50" cy="472.30" r="1.75" fill="#ff2424"/>
<circle cx="304.80" cy="471.70" r="1.75" fill="#ff2424"/>
<circle cx="296.70" cy="494.40" r="1.75" fill="#ff2424"/>
<circle cx="307.10" cy="493.30" r="1.75" fill="#ff2424"/>
<circle cx="301.90" cy="497.10" r="1.75" fill="#ff2424"/>
<circle cx="295.60" cy="500.80" r="1.75" fill="#ff2424"/>
<circle cx="299.90" cy="502.50" r="1.75" fill="#ff2424"/>
<circle cx="304.20" cy="501.60" r="1.75" fill="#ff2424"/>
<circle cx="308.30" cy="500.60" r="1.75" fill="#ff2424"/>
<line x1="371.80" y1="420.02" x2="371.80" y2="501.90" stroke="#3a3a3a" stroke-width="1.2" stroke-linecap="butt"/>
<line x1="368.70" y1="501.90" x2="371.80" y2="501.90" stroke="#3a3a3a" stroke-width="1.0" stroke-linecap="butt"/>
<text x="367.40" y="503.80" font-size="6.0" font-weight="bold" text-anchor="end" fill="#222" stroke="#222" stroke-width="0.22">0</text>
<line x1="368.70" y1="481.43" x2="371.80" y2="481.43" stroke="#3a3a3a" stroke-width="1.0" stroke-linecap="butt"/>
<text x="367.40" y="483.33" font-size="6.0" font-weight="bold" text-anchor="end" fill="#222" stroke="#222" stroke-width="0.22">1</text>
<line x1="368.70" y1="460.96" x2="371.80" y2="460.96" stroke="#3a3a3a" stroke-width="1.0" stroke-linecap="butt"/>
<text x="367.40" y="462.86" font-size="6.0" font-weight="bold" text-anchor="end" fill="#222" stroke="#222" stroke-width="0.22">2</text>
<line x1="368.70" y1="440.49" x2="371.80" y2="440.49" stroke="#3a3a3a" stroke-width="1.0" stroke-linecap="butt"/>
<text x="367.40" y="442.39" font-size="6.0" font-weight="bold" text-anchor="end" fill="#222" stroke="#222" stroke-width="0.22">3</text>
<line x1="368.70" y1="420.02" x2="371.80" y2="420.02" stroke="#3a3a3a" stroke-width="1.0" stroke-linecap="butt"/>
<text x="367.40" y="421.92" font-size="6.0" font-weight="bold" text-anchor="end" fill="#222" stroke="#222" stroke-width="0.22">4</text>
<line x1="371.20" y1="501.90" x2="427.30" y2="501.90" stroke="#3a3a3a" stroke-width="1.2" stroke-linecap="butt"/>
<line x1="387.20" y1="501.90" x2="387.20" y2="504.90" stroke="#3a3a3a" stroke-width="1.0" stroke-linecap="butt"/>
<line x1="411.50" y1="501.90" x2="411.50" y2="504.90" stroke="#3a3a3a" stroke-width="1.0" stroke-linecap="butt"/>
<text x="389.20" y="511.20" font-size="6.1" font-weight="bold" text-anchor="end" fill="#222" stroke="#222" stroke-width="0.22" transform="rotate(-45 389.20 511.20)">PyMT/p11-WT</text>
<text x="413.20" y="511.30" font-size="6.1" font-weight="bold" text-anchor="end" fill="#222" stroke="#222" stroke-width="0.22" transform="rotate(-45 413.20 511.30)">PyMT/p11-KO</text>
<text x="399.50" y="408.40" font-size="7.4" font-weight="bold" text-anchor="middle" fill="#111" stroke="#111" stroke-width="0.22">IL10</text>
<text x="361.60" y="461.00" font-size="6.67" font-weight="bold" text-anchor="middle" fill="#222" stroke="#222" stroke-width="0.22" transform="rotate(-90 361.60 461.00)">IL10 Expression</text>
<polyline points="388.20,471.30 388.20,421.20 410.40,421.20 410.40,428.80" fill="none" stroke="#222" stroke-width="1.4"/>
<text x="399.20" y="420.80" font-size="6.2" font-weight="bold" text-anchor="middle" fill="#222" stroke="#222" stroke-width="0.1">*</text>
<line x1="380.00" y1="495.80" x2="395.80" y2="495.80" stroke="#555" stroke-width="1.3" stroke-linecap="butt"/>
<line x1="403.70" y1="477.30" x2="419.40" y2="477.30" stroke="#555" stroke-width="1.3" stroke-linecap="butt"/>
<circle cx="387.80" cy="481.00" r="1.75" fill="#0000ff"/>
<circle cx="382.70" cy="490.00" r="1.75" fill="#0000ff"/>
<circle cx="390.20" cy="489.30" r="1.75" fill="#0000ff"/>
<circle cx="385.30" cy="492.70" r="1.75" fill="#0000ff"/>
<circle cx="392.80" cy="496.80" r="1.75" fill="#0000ff"/>
<circle cx="388.00" cy="497.50" r="1.75" fill="#0000ff"/>
<circle cx="384.50" cy="500.60" r="1.75" fill="#0000ff"/>
<circle cx="388.30" cy="501.30" r="1.75" fill="#0000ff"/>
<circle cx="391.30" cy="499.80" r="1.75" fill="#0000ff"/>
<circle cx="386.00" cy="498.00" r="1.75" fill="#0000ff"/>
<circle cx="390.00" cy="501.50" r="1.75" fill="#0000ff"/>
<circle cx="411.20" cy="436.80" r="1.75" fill="#ff2424"/>
<circle cx="411.50" cy="444.70" r="1.75" fill="#ff2424"/>
<circle cx="411.80" cy="452.50" r="1.75" fill="#ff2424"/>
<circle cx="411.80" cy="467.80" r="1.75" fill="#ff2424"/>
<circle cx="411.80" cy="484.30" r="1.75" fill="#ff2424"/>
<circle cx="409.30" cy="488.20" r="1.75" fill="#ff2424"/>
<circle cx="414.20" cy="492.30" r="1.75" fill="#ff2424"/>
<circle cx="405.50" cy="496.00" r="1.75" fill="#ff2424"/>
<circle cx="417.60" cy="495.80" r="1.75" fill="#ff2424"/>
<circle cx="413.30" cy="497.30" r="1.75" fill="#ff2424"/>
<circle cx="409.70" cy="498.80" r="1.75" fill="#ff2424"/>
</svg>
</body></html>
